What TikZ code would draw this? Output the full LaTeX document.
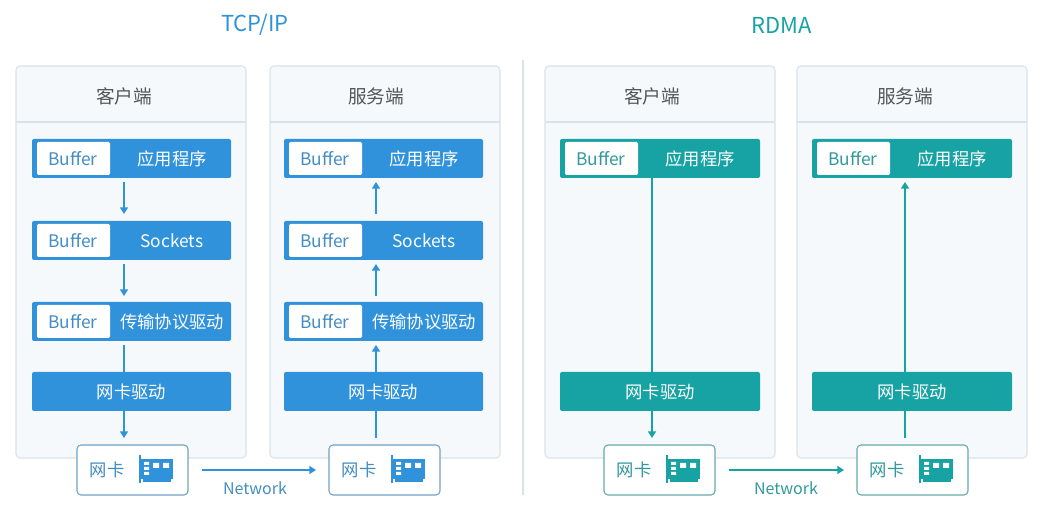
\documentclass[tikz,border=0pt]{standalone}
\usepackage{fontspec}
\setmainfont{Noto Sans CJK SC}
\usetikzlibrary{arrows.meta}
\definecolor{bl}{HTML}{2F92DA}
\definecolor{tl}{HTML}{17A2A4}
\definecolor{pf}{HTML}{F6F9FC}
\definecolor{pb}{HTML}{D9E2EA}
\definecolor{tx}{HTML}{555555}
\begin{document}
\begin{tikzpicture}[x=0.75pt,y=-0.75pt,
 panel/.style={draw=pb,fill=pf,rounded corners=3pt,line width=0.8pt},
 layer/.style={fill=#1,rounded corners=1.5pt},
 lt/.style={text=white,font=\fontsize{13}{13}\selectfont},
 hd/.style={text=tx,font=\fontsize{14}{14}\selectfont},
 arr/.style={draw=#1,line width=1.3pt,-{Triangle[length=5pt,width=6pt]}},
 ln/.style={draw=#1,line width=1.3pt},
 nic/.style={draw=#1!60!gray!80,fill=white,rounded corners=3pt,line width=0.8pt}]
\useasboundingbox (0,0) rectangle (1040,509);
\node[text=bl,font=\fontsize{16.5}{16.5}\selectfont] (t1) at (255,25) {TCP/IP};
\node[text=tl,font=\fontsize{16.5}{16.5}\selectfont] (t2) at (782,25) {RDMA};
\draw[pb,line width=0.8pt] (523,60) -- (523,495);
\foreach \x/\n in {16/p1,270/p2,545/p3,797/p4}{
 \draw[panel] (\x,66) rectangle ++(230,392);
 \draw[pb,line width=0.8pt] (\x,122) -- ++(230,0);
}
\node[hd] (h1) at (124,96) {客户端};
\node[hd] (h2) at (376,96) {服务端};
\node[hd] (h3) at (652,96) {客户端};
\node[hd] (h4) at (905,96) {服务端};
\foreach \x/\s/\c in {32/a/bl,284/b/bl}{
 \foreach \y/\t/\k in {139/应用程序/1,221/Sockets/2,302/传输协议驱动/3}{
  \fill[layer=\c] (\x,\y) rectangle ++(199,39);
  \fill[white,rounded corners=1pt] (\x+5,\y+3) rectangle ++(73,33);
  \node[text=\c!75!gray,font=\fontsize{13}{13}\selectfont] (\s buf\k) at (\x+41,\y+19.5) {Buffer};
  \node[lt] (\s L\k) at (\x+140,\y+19.5) {\t};
 }
 \fill[layer=\c] (\x,372) rectangle ++(199,39);
 \node[lt] (\s L4) at (\x+99.5,391.5) {网卡驱动};
}
\foreach \x/\s in {560/c,812/d}{
 \fill[layer=tl] (\x,139) rectangle ++(200,39);
 \fill[white,rounded corners=1pt] (\x+5,142) rectangle ++(73,33);
 \node[text=tl!75!gray,font=\fontsize{13}{13}\selectfont] (\s buf1) at (\x+41,158.5) {Buffer};
 \node[lt] (\s L1) at (\x+140,158.5) {应用程序};
 \fill[layer=tl] (\x,372) rectangle ++(200,39);
 \node[lt] (\s L4) at (\x+100,391.5) {网卡驱动};
}
\foreach \x/\s/\c in {77/a/bl,329/b/bl,604/c/tl,857/d/tl}{
 \draw[nic=\c] (\x,445) rectangle ++(111,50);
 \node[text=\c!75!gray,font=\fontsize{13}{13}\selectfont] (\s nic) at (\x+30,470) {网卡};
 \fill[\c] (\x+62,455) rectangle ++(2,28);
 \fill[\c] (\x+64,459) rectangle ++(32,20);
 \fill[\c] (\x+66,479) rectangle ++(28,3);
 \fill[white] (\x+67,462) rectangle ++(5,3) (\x+67,467) rectangle ++(5,3) (\x+67,472) rectangle ++(5,3);
 \fill[white] (\x+76,463) rectangle ++(6,5) (\x+86,463) rectangle ++(6,5);
}
\draw[arr=bl] (124,182) -- (124,214);
\draw[arr=bl] (124,264) -- (124,296);
\draw[ln=bl] (124,345) -- (124,372);
\draw[arr=bl] (124,411) -- (124,438);
\draw[arr=bl] (376,214) -- (376,182);
\draw[arr=bl] (376,296) -- (376,264);
\draw[arr=bl] (376,372) -- (376,345);
\draw[ln=bl] (376,438) -- (376,411);
\draw[arr=bl] (202,470) -- (316,470);
\node[text=bl!75!gray,font=\fontsize{12}{12}\selectfont] (n1) at (255,488) {Network};
\draw[ln=tl] (652,178) -- (652,372);
\draw[arr=tl] (652,411) -- (652,438);
\draw[ln=tl] (905,438) -- (905,411);
\draw[arr=tl] (905,372) -- (905,182);
\draw[arr=tl] (729,470) -- (844,470);
\node[text=tl!75!gray,font=\fontsize{12}{12}\selectfont] (n2) at (786,488) {Network};
\end{tikzpicture}
\end{document}
